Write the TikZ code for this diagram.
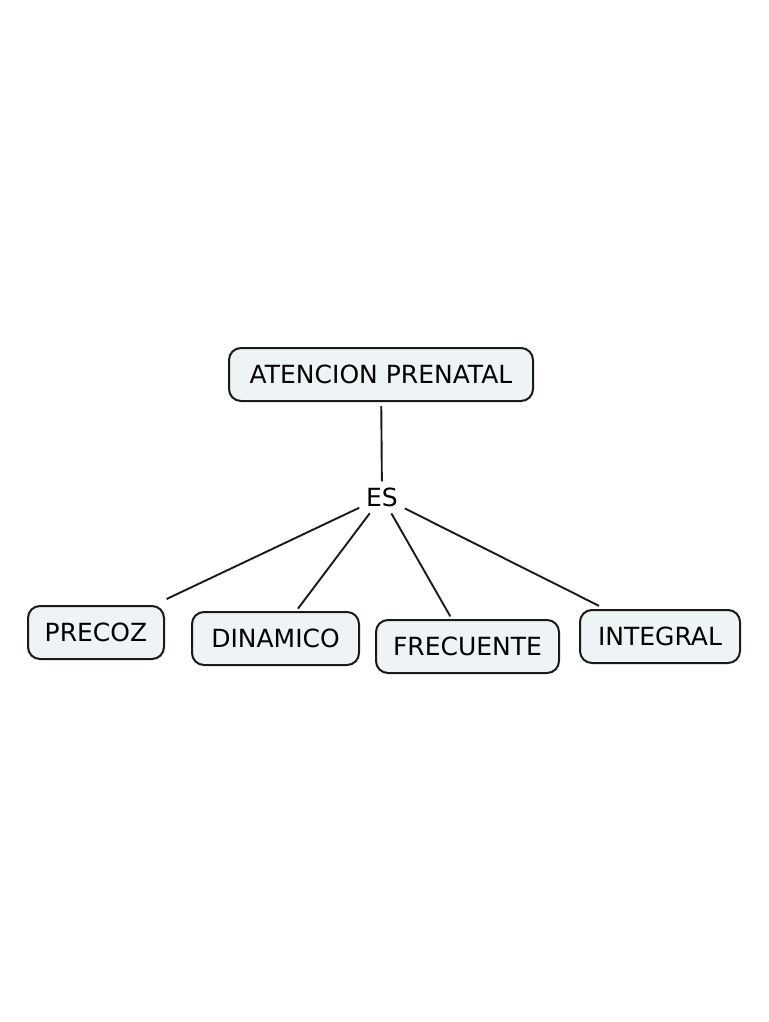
\documentclass[tikz,border=0pt]{standalone}
\usepackage{fontspec}
\setmainfont{DejaVu Sans}
\definecolor{boxfill}{HTML}{EEF3F6}
\definecolor{boxline}{HTML}{1A1A1A}
\begin{document}
\begin{tikzpicture}[x=1pt,y=-1pt,
  concept/.style={draw=boxline, line width=2pt, fill=boxfill, rounded corners=12pt,
    minimum height=53pt, inner sep=0pt, font=\fontsize{25}{30}\selectfont},
  linkword/.style={inner sep=5pt, font=\fontsize{25}{30}\selectfont},
  conn/.style={draw=boxline, line width=1.9pt, shorten >=5pt, shorten <=2pt}]
\useasboundingbox (0,0) rectangle (768,1022);
\fill[white] (0,0) rectangle (768,1022);
\node[concept, minimum width=304pt] (atencion) at (381,374.5) {ATENCION PRENATAL};
\node[linkword] (es) at (382,497) {ES};
\node[concept, minimum width=136pt] (precoz) at (96,632.5) {PRECOZ};
\node[concept, minimum width=167pt] (dinamico) at (275.5,638.5) {DINAMICO};
\node[concept, minimum width=183pt] (frecuente) at (467.5,646.5) {FRECUENTE};
\node[concept, minimum width=160pt] (integral) at (660,636.5) {INTEGRAL};
\draw[conn, shorten >=1pt, shorten <=4pt] (atencion) -- (es);
\draw[conn, shorten >=14pt] (es) -- (precoz);
\draw[conn, shorten >=3pt] (es) -- (dinamico);
\draw[conn, shorten >=3pt] (es) -- (frecuente);
\draw[conn, shorten >=7pt] (es) -- (integral);
\end{tikzpicture}
\end{document}
